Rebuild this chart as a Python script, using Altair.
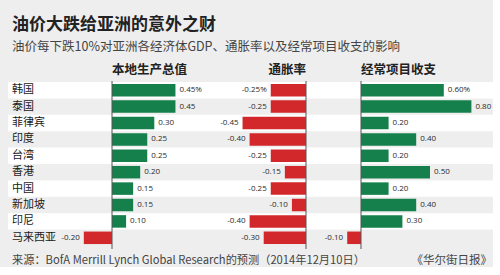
import altair as alt
import pandas as pd

# Economies, top to bottom
countries = ["韩国", "泰国", "菲律宾", "印度", "台湾", "香港", "中国", "新加坡", "印尼", "马来西亚"]

# Effect of a 10% oil price fall (percentage points)
gdp = [0.45, 0.45, 0.30, 0.25, 0.25, 0.20, 0.15, 0.15, 0.10, -0.20]
inflation = [-0.25, -0.25, -0.45, -0.40, -0.25, -0.15, -0.25, -0.10, -0.40, -0.30]
current_account = [0.60, 0.80, 0.20, 0.40, 0.20, 0.50, 0.20, 0.40, 0.30, -0.10]

headers = ["本地生产总值", "通胀率", "经常项目收支"]
title_text = "油价大跌给亚洲的意外之财"
subtitle_text = "油价每下跌10%对亚洲各经济体GDP、通胀率以及经常项目收支的影响"
source_text = "来源：BofA Merrill Lynch Global Research的预测（2014年12月10日）"
credit_text = "《华尔街日报》"

GREEN = "#16804c"
RED = "#d3282b"
FONT = "Noto Sans CJK SC"
H = 164


def fmt(v, first):
    s = f"{v:.2f}"
    return s + "%" if first else s


def table(values):
    return pd.DataFrame({
        "country": countries,
        "value": values,
        "zero": [0.0] * len(values),
        "label": [fmt(v, i == 0) for i, v in enumerate(values)],
        "sign": ["pos" if v >= 0 else "neg" for v in values],
    })


stripes = pd.DataFrame({"country": countries[0::2]})
yscale = alt.Scale(domain=countries, paddingInner=0, paddingOuter=0)


def panel(values, header, width, domain, header_align, names=False, footer=None):
    df = table(values)
    xs = alt.Scale(domain=domain, nice=False, zero=False)
    x = alt.X("value:Q", scale=xs, axis=None)
    x0 = alt.X("zero:Q", scale=xs, axis=None)
    y = alt.Y("country:N", scale=yscale, axis=None)

    band = alt.Chart(stripes).mark_rect(color="white").encode(
        y=y, x=alt.value(0), x2=alt.value(width)
    )
    bars = alt.Chart(df).mark_bar(size=12.5).encode(
        x=x, x2="zero:Q", y=y,
        color=alt.Color("sign:N", scale=alt.Scale(domain=["pos", "neg"], range=[GREEN, RED]), legend=None),
    )
    base_text = dict(font="Open Sans", fontSize=8, color="#2a2a2a", baseline="middle")
    pos_lbl = alt.Chart(df).transform_filter("datum.value >= 0").mark_text(
        align="left", dx=4, **base_text).encode(x=x, y=y, text="label:N")
    neg_lbl = alt.Chart(df).transform_filter("datum.value < 0").mark_text(
        align="right", dx=-4, **base_text).encode(x=x, y=y, text="label:N")
    axis_line = alt.Chart(df.head(1)).mark_rule(color="#555", strokeWidth=1).encode(
        x=x0, y=alt.value(-1), y2=alt.value(H + 3)
    )
    head = alt.Chart(df.head(1)).mark_text(
        align=header_align, baseline="middle", font=FONT, fontSize=12.5,
        fontWeight="bold", color="#222", text=header
    ).encode(x=x0, y=alt.value(-12))

    layers = [band, bars, axis_line, pos_lbl, neg_lbl, head]
    if names:
        layers.append(alt.Chart(df).mark_text(
            align="left", baseline="middle", font=FONT, fontSize=11, color="#1a1a1a"
        ).encode(x=alt.value(4), y=y, text="country:N"))
    if footer is not None:
        txt, fx, falign, fsize = footer
        layers.append(alt.Chart(df.head(1)).mark_text(
            align=falign, baseline="middle", font=FONT, fontSize=fsize, color="#444", text=txt
        ).encode(x=alt.value(fx), y=alt.value(H + 15)))
    return alt.layer(*layers).properties(width=width, height=H)


p1 = panel(gdp, headers[0], 207, [-104 / 141, 103 / 141], "left", names=True,
           footer=(source_text, 4, "left", 11.2))
p2 = panel(inflation, headers[1], 115, [-91 / 141, 24 / 141], "right")
p3 = panel(current_account, headers[2], 163, [-31 / 138, 132 / 138], "left",
           footer=(credit_text, 162, "right", 11.5))

chart = alt.hconcat(p1, p2, p3, spacing=0, bounds="flush").properties(
    title=alt.TitleParams(
        text=title_text, subtitle=subtitle_text, anchor="start", dx=4,
        font=FONT, fontSize=17, fontWeight="bold", color="#222",
        subtitleFont=FONT, subtitleFontSize=12.5, subtitleColor="#444",
        subtitlePadding=7, offset=10,
    ),
    padding={"left": 8, "top": 15, "right": 0, "bottom": 0},
    background="#eeeeee",
).configure_view(stroke=None)

chart.save("out.html", embed_options={"renderer": "svg", "actions": False})
